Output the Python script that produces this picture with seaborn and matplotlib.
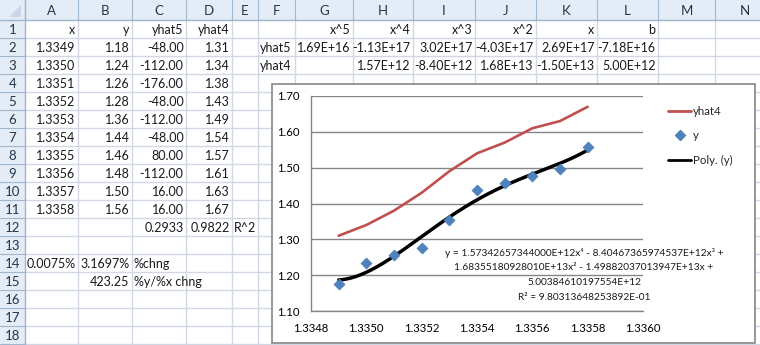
import numpy as np
import pandas as pd
import matplotlib
matplotlib.use("Agg")
import matplotlib.pyplot as plt
import seaborn as sns
from matplotlib.patches import Rectangle, Polygon
from matplotlib.lines import Line2D

sns.set_theme(style="white")
plt.rcParams['font.family'] = ['Lato', 'DejaVu Sans']

# ---------------- data ----------------
x_vals = [1.3349, 1.3350, 1.3351, 1.3352, 1.3353, 1.3354, 1.3355, 1.3356, 1.3357, 1.3358]
y_vals = [1.175, 1.235, 1.255, 1.275, 1.355, 1.437, 1.457, 1.477, 1.497, 1.557]
yhat5_vals = [-48.0, -112.0, -176.0, -48.0, -112.0, -48.0, 80.0, -112.0, 16.0, 16.0]
yhat4_vals = [1.31, 1.34, 1.38, 1.43, 1.49, 1.54, 1.57, 1.61, 1.63, 1.67]
col_letters = ["A", "B", "C", "D", "E", "F", "G", "H", "I", "J", "K", "L", "M", "N"]
coef_headers = ["x^5", "x^4", "x^3", "x^2", "x", "b"]
coef_yhat5 = ["1.69E+16", "-1.13E+17", "3.02E+17", "-4.03E+17", "2.69E+17", "-7.18E+16"]
coef_yhat4 = ["", "1.57E+12", "-8.40E+12", "1.68E+13", "-1.50E+13", "5.00E+12"]
r2_vals = ["0.2933", "0.9822"]
pct_x, pct_y, ratio = "0.0075%", "3.1697%", "423.25"
y_ticks = [1.10, 1.20, 1.30, 1.40, 1.50, 1.60, 1.70]
x_ticks = [1.3348, 1.3350, 1.3352, 1.3354, 1.3356, 1.3358, 1.3360]
eq_lines = ["y = 1.57342657344000E+12x\u2074 - 8.40467365974537E+12x\u00b3 +",
            "1.68355180928010E+13x\u00b2 - 1.49882037013947E+13x +",
            "5.00384610197554E+12",
            "R\u00b2 = 9.80313648253892E-01"]

df = pd.DataFrame({"x": x_vals, "y": y_vals, "yhat4": yhat4_vals})

# ---------------- figure / sheet ----------------
W, H = 760, 345
fig = plt.figure(figsize=(7.6, 3.45), dpi=100)
bg = fig.add_axes([0, 0, 1, 1])
bg.set_xlim(0, W)
bg.set_ylim(H, 0)
bg.axis("off")

col_edges = [25, 78, 132, 186, 232, 258, 295, 353, 413, 475, 536, 597, 658, 715, 775]
head_h = 20
row_h = 18
nrows = 19
grid_c = "#D0D7E5"
head_bg = "#E4ECF7"
head_line = "#9EB6CE"
txt_c = "#1a1a1a"
fs = 9.0

# gridlines
for xe in col_edges[1:]:
    bg.plot([xe, xe], [head_h, H], color=grid_c, lw=1, zorder=1)
for r in range(1, nrows + 1):
    yy = head_h + r * row_h
    bg.plot([25, W], [yy, yy], color=grid_c, lw=1, zorder=1)

# headers
bg.add_patch(Rectangle((0, 0), W, head_h, facecolor=head_bg, edgecolor="none", zorder=2))
bg.add_patch(Rectangle((0, 0), 25, H, facecolor=head_bg, edgecolor="none", zorder=2))
bg.plot([0, W], [head_h, head_h], color=head_line, lw=1, zorder=3)
bg.plot([25, 25], [0, H], color=head_line, lw=1, zorder=3)
for xe in col_edges:
    bg.plot([xe, xe], [0, head_h], color=head_line, lw=0.8, zorder=3)
for r in range(1, nrows + 1):
    yy = head_h + r * row_h
    bg.plot([0, 25], [yy, yy], color=head_line, lw=0.8, zorder=3)
bg.add_patch(Polygon([[21, 5], [21, 17], [9, 17]], closed=True,
                     facecolor="#C9D6E8", edgecolor="none", zorder=3))
for i, letter in enumerate(col_letters):
    xc = (col_edges[i] + col_edges[i + 1]) / 2
    bg.text(xc, head_h / 2 + 1, letter, ha="center", va="center", fontsize=fs + 0.5,
            color="#22364a", zorder=4)
for r in range(1, nrows):
    bg.text(12.5, head_h + (r - 0.5) * row_h + 1, str(r), ha="center", va="center",
            fontsize=fs + 0.5, color="#22364a", zorder=4)


def cell(col, row, text, align="right"):
    i = col_letters.index(col)
    x0, x1 = col_edges[i], col_edges[i + 1]
    yc = head_h + (row - 0.5) * row_h + 1
    if align == "right":
        bg.text(x1 - 2.5, yc, text, ha="right", va="center", fontsize=fs, color=txt_c, zorder=4)
    else:
        bg.text(x0 + 2, yc, text, ha="left", va="center", fontsize=fs, color=txt_c, zorder=4)


for c, t in zip("ABCD", ["x", "y", "yhat5", "yhat4"]):
    cell(c, 1, t)
for k, (xv, yv, h5, h4) in enumerate(zip(x_vals, y_vals, yhat5_vals, yhat4_vals)):
    r = k + 2
    cell("A", r, f"{xv:.4f}")
    cell("B", r, f"{yv + 1e-9:.2f}")
    cell("C", r, f"{h5:.2f}")
    cell("D", r, f"{h4:.2f}")
for c, t in zip("GHIJKL", coef_headers):
    cell(c, 1, t)
cell("F", 2, "yhat5", "left")
cell("F", 3, "yhat4", "left")
for c, t5, t4 in zip("GHIJKL", coef_yhat5, coef_yhat4):
    cell(c, 2, t5)
    if t4:
        cell(c, 3, t4)
cell("C", 12, r2_vals[0])
cell("D", 12, r2_vals[1])
cell("E", 12, "R^2", "left")
cell("A", 14, pct_x)
cell("B", 14, pct_y)
cell("C", 14, "%chng", "left")
cell("B", 15, ratio)
cell("C", 15, "%y/%x chng", "left")

# chart frame
bg.add_patch(Rectangle((272, 83.5), 483, 259, facecolor="white", edgecolor="#868686",
                       lw=1.2, zorder=10))

# ---------------- chart ----------------
px0, px1 = 311, 643
py_top, py_bot = 96, 311
ax = fig.add_axes([px0 / W, 1 - py_bot / H, (px1 - px0) / W, (py_bot - py_top) / H], zorder=20)
ax.patch.set_alpha(0)

# polynomial trendline (order 4) fitted to y
xc = (np.array(x_vals) - x_vals[0]) * 1e4
coef = np.polyfit(xc, np.array(y_vals), 4)
xs_c = np.linspace(xc.min(), xc.max(), 200)
trend = pd.DataFrame({"x": xs_c / 1e4 + x_vals[0], "y": np.polyval(coef, xs_c)})

sns.lineplot(data=df, x="x", y="yhat4", ax=ax, color="#C0504D", lw=1.9, zorder=3)
sns.lineplot(data=trend, x="x", y="y", ax=ax, color="black", lw=2.5, zorder=4)
sns.scatterplot(data=df, x="x", y="y", ax=ax, marker="D", s=32, color="#4F81BD",
                edgecolor="#4F81BD", zorder=5)

ax.set_xlim(1.3348, 1.3360)
ax.set_ylim(1.10, 1.70)
ax.set_yticks(y_ticks)
ax.set_yticklabels([f"{v:.2f}" for v in y_ticks])
ax.set_xticks(x_ticks)
ax.set_xticklabels([f"{v:.4f}" for v in x_ticks])
ax.set_xlabel("")
ax.set_ylabel("")
ax.grid(axis="y", color="#868686", lw=1)
ax.grid(axis="x", visible=False)
for s in ["top", "right"]:
    ax.spines[s].set_visible(False)
for s in ["left", "bottom"]:
    ax.spines[s].set_color("#868686")
    ax.spines[s].set_linewidth(1)
ax.tick_params(axis="both", which="major", length=4, width=1, color="#868686",
               labelsize=8.2, labelcolor="black", direction="out")
ax.tick_params(axis="y", pad=4)
ax.tick_params(axis="x", pad=5)
ax.set_axisbelow(True)

handles = [Line2D([], [], color="#C0504D", lw=2),
           Line2D([], [], color="#4F81BD", marker="D", ms=5.5, lw=0),
           Line2D([], [], color="black", lw=2)]
leg = ax.legend(handles, ["yhat4", "y", "Poly. (y)"], loc="upper left",
                bbox_to_anchor=(668 / W, 1 - 106 / H), bbox_transform=fig.transFigure,
                frameon=False, fontsize=8.3, handlelength=2.0, handletextpad=0.2,
                labelspacing=1.15, borderpad=0, borderaxespad=0)

for line, ypix in zip(eq_lines, [253, 268, 282.5, 297]):
    fig.text(584 / W, 1 - ypix / H, line, ha="center", va="center", fontsize=7.3,
             zorder=30, color=txt_c)

fig.savefig("out.png", dpi=100)
